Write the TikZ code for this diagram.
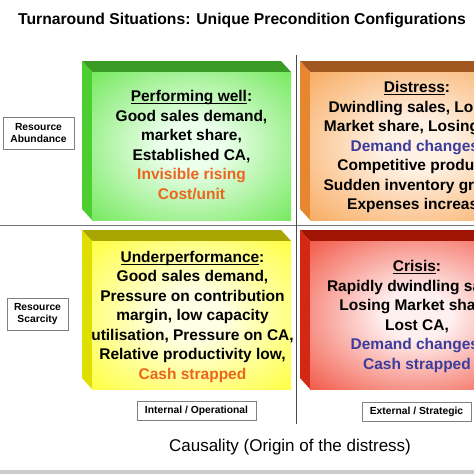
\documentclass[tikz,border=0pt]{standalone}
\usepackage{fontspec}
\setmainfont{Liberation Sans}
\usetikzlibrary{positioning}

% quadrant colours
\definecolor{gfront}{RGB}{82,226,52}
\definecolor{gtop}{RGB}{58,156,36}
\definecolor{gside}{RGB}{76,206,48}
\definecolor{ofront}{RGB}{246,150,58}
\definecolor{otop}{RGB}{160,88,32}
\definecolor{oside}{RGB}{230,134,46}
\definecolor{yfront}{RGB}{255,255,16}
\definecolor{ytop}{RGB}{168,164,0}
\definecolor{yside}{RGB}{222,222,0}
\definecolor{rfront}{RGB}{238,44,22}
\definecolor{rtop}{RGB}{160,20,4}
\definecolor{rside}{RGB}{210,40,20}
\definecolor{warn}{RGB}{236,100,30}
\definecolor{shift}{RGB}{60,60,156}
\colorlet{glowin}{white}
\colorlet{glowout}{black}
\pgfdeclareradialshading[glowin,glowout]{glow}{\pgfpoint{0bp}{0bp}}{color(0bp)=(glowin); color(8bp)=(glowin); color(44bp)=(glowout); color(50bp)=(glowout)}

% underlined block heading
\newcommand{\blockhead}[1]{\setbox0\hbox{#1}\rlap{\rule[-2.6pt]{\wd0}{1.1pt}}\box0}

\begin{document}
\begin{tikzpicture}[
		x=1pt, y=-1pt,
		cell/.style={font=\fontsize{15.5}{19.5}\selectfont\bfseries, align=center, inner sep=0pt},
		tag/.style={draw=black!50, line width=0.7pt, font=\fontsize{10.3}{12.6}\selectfont\bfseries, align=center, inner sep=0pt},
		axis/.style={draw=black!70, line width=0.9pt},
		glow/.style 2 args={/utils/exec={\colorlet{glowin}{#1}\colorlet{glowout}{#2}}, shading=glow}
		]
		\useasboundingbox (0,0) rectangle (474,474);
		\clip (0,0) rectangle (474,474);
		\fill[white] (0,0) rectangle (474,474);
		\fill[black!20] (0,470) rectangle (474,474);
		
		% Title
		\node[font=\fontsize{15.7}{18}\selectfont\bfseries] (title) at (242,20) {Turnaround Situations: Unique Precondition Configurations};
		
		% Axes
		\coordinate (vtop) at (296,55);
		\coordinate (vbot) at (296,424);
		\coordinate (hleft) at (0,225);
		\coordinate (hright) at (474,225);
		\draw[axis, draw=black!55] (hleft) -- (hright);
		\draw[axis] (vtop) -- (vbot);
		
		% Top left block (green)
		\fill[gtop] (82,61) -- (281,61) -- (291,72) -- (92,72) -- cycle;
		\fill[gside] (82,61) -- (92,72) -- (92,220) -- (82,209) -- cycle;
		\shade[glow={green!8!white}{gfront}] (92,72) rectangle (291,220);
		
		% Top right block (orange)
		\fill[otop] (300,61) -- (514,61) -- (524,72) -- (310,72) -- cycle;
		\fill[oside] (300,61) -- (310,72) -- (310,220) -- (300,209) -- cycle;
		\shade[glow={orange!10!white}{ofront}] (310,72) rectangle (524,220);
		
		% Bottom left block (yellow)
		\fill[ytop] (82,230) -- (281,230) -- (291,241) -- (92,241) -- cycle;
		\fill[yside] (82,230) -- (92,241) -- (92,389) -- (82,378) -- cycle;
		\shade[glow={yellow!10!white}{yfront}] (92,241) rectangle (291,389);
		
		% Bottom right block (red)
		\fill[rtop] (300,230) -- (514,230) -- (524,241) -- (310,241) -- cycle;
		\fill[rside] (300,230) -- (310,241) -- (310,389) -- (300,378) -- cycle;
		\shade[glow={red!6!white}{rfront}] (310,241) rectangle (524,389);
		
		% Block texts
		\node[cell] (perf) at (191.5,145) {\blockhead{Performing well}:\\ Good sales demand,\\ market share,\\ Established CA,\\ \textcolor{warn}{Invisible rising}\\ \textcolor{warn}{Cost/unit}};
		\node[cell] (distress) at (417,147) {\blockhead{Distress}:\\ Dwindling sales, Losing\\ Market share, Losing CA,\\ \textcolor{shift}{Demand changes,}\\ Competitive products\\ Sudden inventory growth\\ Expenses increase};
		\node[cell] (under) at (192.5,316.5) {\blockhead{Underperformance}:\\ Good sales demand,\\ Pressure on contribution\\ margin, low capacity\\ utilisation, Pressure on CA,\\ Relative productivity low,\\ \textcolor{warn}{Cash strapped}};
		\node[cell] (crisis) at (417,316.5) {\blockhead{Crisis}:\\ Rapidly dwindling sales,\\ Losing Market share,\\ Lost CA,\\ \textcolor{shift}{Demand changes,}\\ \textcolor{shift}{Cash strapped}};
		
		% Axis tags
		\node[tag, minimum width=71pt, minimum height=32pt] (abund) at (38.5,133) {Resource\\ Abundance};
		\node[tag, minimum width=61pt, minimum height=32pt] (scarce) at (37.5,314) {Resource\\ Scarcity};
		\node[tag, minimum width=119pt, minimum height=19pt] (internal) at (196.5,410.5) {Internal / Operational};
		\node[tag, minimum width=109pt, minimum height=19pt] (external) at (416.5,411.5) {External / Strategic};
		
		% Horizontal axis title
		\node[font=\fontsize{17}{20}\selectfont] (cause) at (290,447) {Causality (Origin of the distress)};
		
	\end{tikzpicture}
\end{document}
